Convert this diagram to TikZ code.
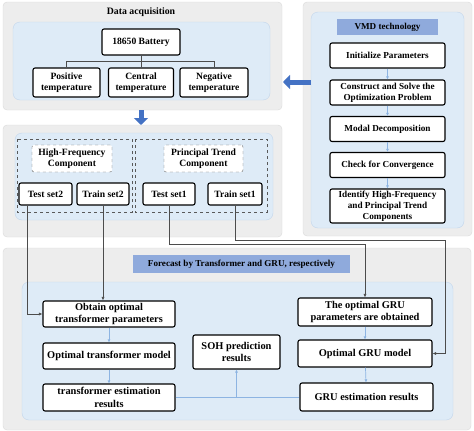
\documentclass[tikz,border=0pt]{standalone}
\usepackage{fontspec}
\setmainfont{Liberation Serif}
\usetikzlibrary{arrows.meta}

\definecolor{panelgray}{HTML}{EDEDED}
\definecolor{paneledge}{HTML}{DADADA}
\definecolor{innerblue}{HTML}{DEEBF7}
\definecolor{inneredge}{HTML}{C3D6EC}
\definecolor{headblue}{HTML}{8FAADC}
\definecolor{bigblue}{HTML}{4472C4}
\definecolor{flowblue}{HTML}{8DB4E2}

\tikzset{
  panel/.style={fill=panelgray, draw=paneledge, rounded corners=4pt},
  inner/.style={fill=innerblue, draw=inneredge, rounded corners=7pt},
  box/.style={draw, rectangle, rounded corners=2pt, line width=1.1pt, fill=white,
    align=center, font=\fontsize{9.6}{11}\selectfont\bfseries, inner sep=1pt},
  vmdbox/.style={box, font=\fontsize{9.2}{11}\selectfont\bfseries},
  bigbox/.style={box, font=\fontsize{10.4}{12.3}\selectfont\bfseries},
  head/.style={rectangle, fill=headblue, align=center,
    font=\fontsize{9.1}{10.5}\selectfont\bfseries, inner sep=1pt},
  dashbox/.style={draw=gray!80!black, dashed, rectangle, rounded corners=2pt, fill=white,
    align=center, font=\fontsize{9.6}{11}\selectfont\bfseries, inner sep=1pt},
  group/.style={draw=gray!70!black, dashed, thin},
  flow/.style={draw=flowblue, line width=0.7pt, -{Latex[length=3pt,width=3pt]}},
  link/.style={draw=gray!60!black, line width=0.6pt, -{Latex[length=3.5pt,width=3pt]}},
  bigarrow/.style={draw=bigblue, line width=5pt, -{Triangle[length=7pt,width=14pt]}}
}

\begin{document}
\begin{tikzpicture}[x=1pt, y=-1pt]
    \useasboundingbox (0,0) rectangle (474,431);

    % panels
    \path[panel] (3,2) rectangle (282,110);
    \path[inner] (13,22) rectangle (270,100);
    \path[panel] (303,2) rectangle (472,236);
    \path[inner] (311,12) rectangle (464,228);
    \path[panel] (3,125) rectangle (282,237);
    \path[inner] (15,133) rectangle (273,220);
    \path[panel] (3,248) rectangle (471,430);
    \path[inner] (22,282) rectangle (453,420);

    % data acquisition
    \node (acq) [font=\fontsize{9.8}{11}\selectfont\bfseries] at (141,12) {Data acquisition};
    \node (bat) [box, minimum width=78, minimum height=26] at (141,42) {18650 Battery};
    \node (pos) [box, minimum width=67, minimum height=29] at (66.5,82.5) {Positive\\temperature};
    \node (cen) [box, minimum width=65, minimum height=29] at (141,82.5) {Central\\temperature};
    \node (neg) [box, minimum width=68, minimum height=29] at (214,82.5) {Negative\\temperature};
    \coordinate (split) at (141,61);
    \draw[gray!60!black, line width=0.7pt] (bat.south) -- (split) -| (pos.north);
    \draw[gray!60!black, line width=0.7pt] (split) -| (neg.north);
    \draw[gray!60!black, line width=0.7pt] (split) -- (cen.north);

    % VMD
    \node (vmdhead) [head, minimum width=101, minimum height=16] at (387.5,27) {VMD technology};
    \node (init) [vmdbox, minimum width=115, minimum height=25] at (387.5,55.5) {Initialize Parameters};
    \node (cons) [vmdbox, minimum width=115, minimum height=25, below of=init, node distance=37pt] {Construct and Solve the\\Optimization Problem};
    \node (modal) [vmdbox, minimum width=115, minimum height=25, below of=cons, node distance=36.5pt] {Modal Decomposition};
    \node (conv) [vmdbox, minimum width=115, minimum height=25, below of=modal, node distance=36pt] {Check for Convergence};
    \node (ident) [vmdbox, minimum width=115, minimum height=34, below of=conv, node distance=41pt] {Identify High-Frequency\\and Principal Trend\\Components};
    \draw[flow] (init) -- (cons);
    \draw[flow] (cons) -- (modal);
    \draw[flow] (modal) -- (conv);
    \draw[flow] (conv) -- (ident);

    % big arrows
    \coordinate (vmdout) at (311,82);
    \coordinate (acqin) at (283,82);
    \coordinate (acqout) at (141,110);
    \coordinate (setsin) at (141,125);
    \draw[bigarrow] (vmdout) -- (acqin);
    \draw[bigarrow] (acqout) -- (setsin);

    % components and data sets
    \draw[group] (17,139) rectangle (132,212);
    \draw[group] (135,139) rectangle (267,212);
    \node (hf) [dashbox, minimum width=80, minimum height=27] at (72,158.5) {High-Frequency\\Component};
    \node (pt) [dashbox, minimum width=79, minimum height=27] at (203.5,158.5) {Principal Trend\\Component};
    \node (ts2) [box, minimum width=53, minimum height=22] at (45.5,194) {Test set2};
    \node (tr2) [box, minimum width=52, minimum height=22] at (103,194) {Train set2};
    \node (ts1) [box, minimum width=52, minimum height=22] at (169,194) {Test set1};
    \node (tr1) [box, minimum width=54, minimum height=22] at (235,194) {Train set1};

    % forecasting
    \node (fchead) [head, minimum width=217, minimum height=18] at (241.5,264) {Forecast by Transformer and GRU, respectively};
    \node (obtain) [bigbox, minimum width=132, minimum height=26] at (109,314) {Obtain optimal\\transformer parameters};
    \node (opttr) [bigbox, minimum width=132, minimum height=26] at (109,356) {Optimal transformer model};
    \node (trest) [bigbox, minimum width=132, minimum height=27] at (109,397.5) {transformer estimation\\results};
    \node (soh) [bigbox, minimum width=87, minimum height=34] at (236.5,352) {SOH prediction\\results};
    \node (grupar) [bigbox, minimum width=134, minimum height=28] at (365,312) {The optimal GRU\\parameters are obtained};
    \node (optgru) [bigbox, minimum width=134, minimum height=27] at (365,353.5) {Optimal GRU model};
    \node (gruest) [bigbox, minimum width=133, minimum height=28] at (366.5,397) {GRU estimation results};

    \draw[flow] (obtain) -- (opttr);
    \draw[flow] (opttr) -- (trest);
    \draw[flow] (grupar) -- (optgru);
    \draw[flow] (optgru) -- (gruest);
    \draw[draw=flowblue, line width=0.7pt] (trest.east) -- (gruest.west |- trest.east);
    \draw[flow] (soh.south |- trest.east) -- (soh.south);

    % data set links
    \draw[link] ([xshift=-18.5pt]ts2.south) |- (obtain.west);
    \draw[link] (tr2.south) -- (tr2.south |- obtain.north);
    \draw[link] (ts1.south) -- ++(0,39) -| (grupar.north);
    \draw[link] (tr1.south) -- ++(0,35) -| ([xshift=13pt]optgru.east) -- (optgru.east);
\end{tikzpicture}
\end{document}
